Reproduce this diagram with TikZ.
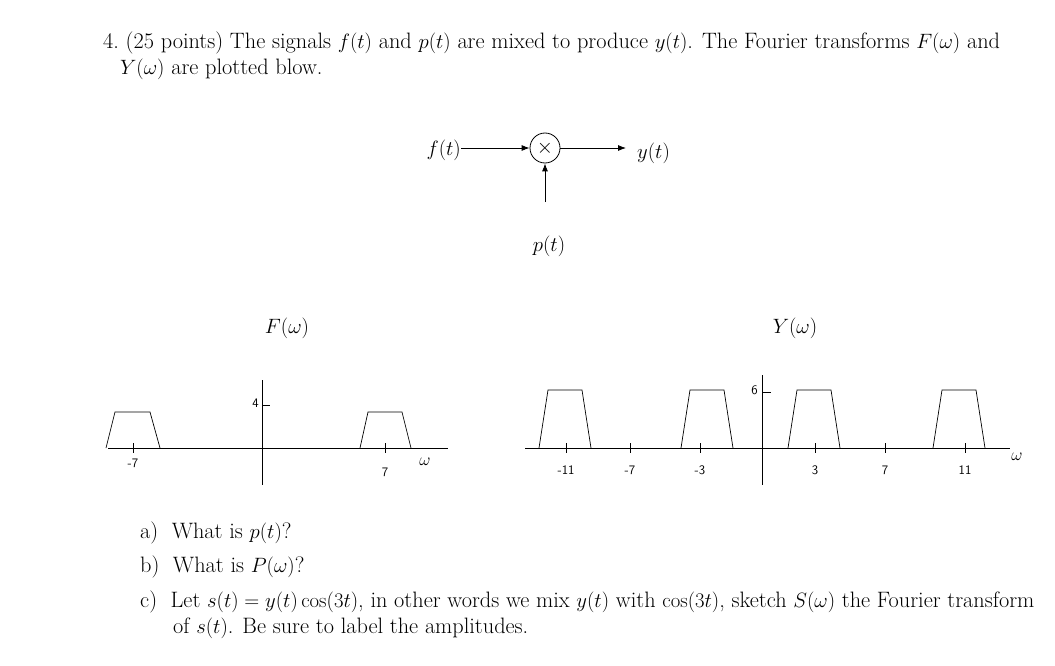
\documentclass[tikz,border=0pt]{standalone}
\usetikzlibrary{arrows.meta}
\begin{document}
\begin{tikzpicture}[x=1pt,y=-1pt,
  txt/.style={inner sep=0pt,anchor=base west,font=\fontsize{22.3}{26}\selectfont},
  tk/.style={font=\sffamily\fontsize{13}{14}\selectfont,inner sep=1pt},
  ax/.style={line width=0.7pt},
  tr/.style={line width=0.7pt},
  arr/.style={-{Latex[length=8pt,width=6pt]},line width=0.8pt}]
\useasboundingbox (0,0) rectangle (1055,666);
% title
\node[txt] (t1) at (103,49) {4.\ (25 points) The signals $f(t)$ and $p(t)$ are mixed to produce $y(t)$. The Fourier transforms $F(\omega)$ and};
\node[txt] (t2) at (120,75) {$Y(\omega)$ are plotted blow.};
% block diagram
\node[txt,anchor=base east] (f) at (461,156) {$f(t)$};
\node[draw,circle,minimum size=30pt,inner sep=0pt,line width=0.8pt,font=\fontsize{20}{20}\selectfont] (m) at (545,148) {$\times$};
\coordinate (yend) at (626,148);
\node[txt] (y) at (637,158) {$y(t)$};
\coordinate (pst) at (545,202);
\node[txt,anchor=base] (p) at (549,251) {$p(t)$};
\draw[arr] (f.east|-m) -- (m);
\draw[arr] (m) -- (yend);
\draw[arr] (pst) -- (m);
% F plot
\draw[ax] (108,448) -- (448,448);
\draw[ax] (262,380) -- (262,485);
\draw[ax] (262,405) -- (270,405);
\node[tk,anchor=east] (l4) at (260,403) {4};
\node[txt,anchor=base] (Fl) at (287,333) {$F(\omega)$};
\draw[ax] (133,443) -- (133,453); \node[tk] (m7) at (133,463) {-7};
\draw[ax] (385,443) -- (385,453); \node[tk] (p7) at (385,472) {7};
\node[tk,font=\fontsize{17}{18}\selectfont] (wF) at (425,462) {$\omega$};
\draw[tr] (106,448) -- (115,412) -- (150,412) -- (160,448);
\draw[tr] (360,448) -- (368,412) -- (402,412) -- (411,448);
% Y plot
\draw[ax] (525,448) -- (1010,448);
\draw[ax] (762,375) -- (762,485);
\draw[ax] (762,392) -- (771,392);
\node[tk,anchor=east] (l6) at (759,390) {6};
\node[txt,anchor=base] (Yl) at (795,333) {$Y(\omega)$};
\foreach \x/\l in {566/-11,630/-7,700/-3,815/3,885/7,965/11}{
  \draw[ax] (\x,443) -- (\x,453); \node[tk] at (\x,470) {\l};}
\node[tk,font=\fontsize{17}{18}\selectfont] (wY) at (1017,457) {$\omega$};
\foreach \c in {566,708,815,960}{
  \draw[tr] (\c-27,448) -- (\c-18,390) -- (\c+16,390) -- (\c+25,448);}
% questions
\node[txt] (qa) at (140,538) {a)\ \ What is $p(t)$?};
\node[txt] (qb) at (140,572) {b)\ \ What is $P(\omega)$?};
\node[txt] (qc) at (140,607) {c)\ \ Let $s(t)=y(t)\cos(3t)$, in other words we mix $y(t)$ with $\cos(3t)$, sketch $S(\omega)$ the Fourier transform};
\node[txt] (qd) at (173,633) {of $s(t)$. Be sure to label the amplitudes.};
\end{tikzpicture}
\end{document}
